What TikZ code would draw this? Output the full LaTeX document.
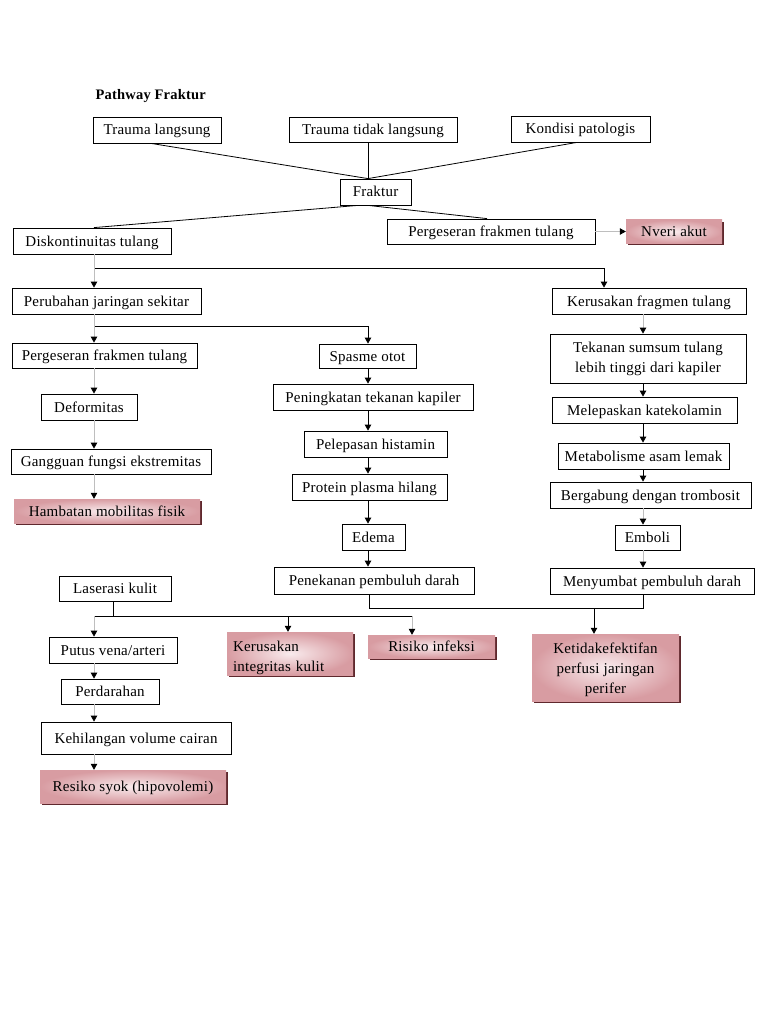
\documentclass[tikz,border=0pt]{standalone}
\usepackage{fontspec}
\setmainfont{Liberation Serif}[LetterSpace=1.5]
\usetikzlibrary{arrows.meta,shadows}
\definecolor{glc}{RGB}{190,190,190}
\definecolor{pinkin}{RGB}{249,235,237}
\definecolor{pinkout}{RGB}{216,156,162}
\definecolor{shadowc}{RGB}{95,40,45}
\newcommand{\lowlines}[3]{\raisebox{#1}[\height][\depth]{\begin{tabular}{@{}#2@{}}#3\end{tabular}}}
\begin{document}
\begin{tikzpicture}[x=1pt,y=-1pt,
  font=\fontsize{15}{20}\selectfont,
  box/.style={draw=black,line width=0.8pt,fill=white,inner sep=0pt,text depth=1.5pt,text height=11.5pt},
  mbox/.style={draw=black,line width=0.8pt,fill=white,inner sep=0pt,align=center},
  pinkbase/.style={inner sep=0pt,inner color=pinkin,outer color=pinkout,
     general shadow={fill=shadowc,shadow xshift=1.6pt,shadow yshift=-1.6pt}},
  pinkbox/.style={pinkbase,text depth=1.5pt,text height=11.5pt},
  mpink/.style={pinkbase},
  bl/.style={draw=black,line width=0.8pt},
  gl/.style={draw=glc,line width=0.8pt},
  barr/.style={bl,-{Triangle[length=6pt,width=6.5pt,black]}},
  garr/.style={gl,-{Triangle[length=6pt,width=6.5pt,black]}}]
\useasboundingbox (0,0) rectangle (768,1024);
\fill[white] (0,0) rectangle (768,1024);

\node[anchor=west,font=\fontsize{14.5}{16}\selectfont\bfseries] (title) at (92,96) {Pathway Fraktur};

\node[box,minimum width=128,minimum height=26] (tl) at (157,130) {Trauma langsung};
\node[box,minimum width=168,minimum height=25] (ttl) at (373,129.5) {Trauma tidak langsung};
\node[box,minimum width=139,minimum height=26] (kp) at (580.5,129) {Kondisi patologis};
\node[box,minimum width=71,minimum height=26] (fr) at (375.5,192) {Fraktur};
\node[box,minimum width=158,minimum height=26] (dk) at (92,241) {Diskontinuitas tulang};
\node[box,minimum width=208,minimum height=25] (pg1) at (491,231.5) {Pergeseran frakmen tulang};
\node[pinkbox,minimum width=96,minimum height=23] (nv) at (674,231.5) {Nveri akut};

\node[box,minimum width=189,minimum height=26] (pj) at (106.5,301) {Perubahan jaringan sekitar};
\node[box,minimum width=194,minimum height=26] (kf) at (649,301) {Kerusakan fragmen tulang};
\node[box,minimum width=185,minimum height=25] (pg2) at (104.5,355.5) {Pergeseran frakmen tulang};
\node[box,minimum width=97,minimum height=24] (sp) at (367.5,356) {Spasme otot};
\node[box,minimum width=96,minimum height=26] (df) at (89,407) {Deformitas};
\node[box,minimum width=200,minimum height=26] (pk) at (373,397) {Peningkatan tekanan kapiler};
\node[mbox,minimum width=196,minimum height=49] (ts) at (648,358.5) {Tekanan sumsum tulang\\lebih tinggi dari kapiler};
\node[box,minimum width=185,minimum height=26] (mk) at (644.5,410) {Melepaskan katekolamin};
\node[box,minimum width=143,minimum height=26] (ph) at (375.5,444) {Pelepasan histamin};
\node[box,minimum width=200,minimum height=25] (gf) at (111,461.5) {Gangguan fungsi ekstremitas};
\node[box,minimum width=171,minimum height=26] (ma) at (643.5,456) {Metabolisme asam lemak};
\node[box,minimum width=155,minimum height=26] (pp) at (369.5,487) {Protein plasma hilang};
\node[box,minimum width=201,minimum height=26] (bt) at (650.5,495) {Bergabung dengan trombosit};
\node[pinkbox,minimum width=186,minimum height=24] (hm) at (107,511) {Hambatan mobilitas fisik};
\node[box,minimum width=63,minimum height=26] (ed) at (373.5,537) {Edema};
\node[box,minimum width=65,minimum height=25] (em) at (647.5,537.5) {Emboli};
\node[box,minimum width=200,minimum height=27] (pn) at (374,580.5) {Penekanan pembuluh darah};
\node[box,minimum width=204,minimum height=26] (ms) at (652,581) {Menyumbat pembuluh darah};
\node[box,minimum width=112,minimum height=25] (lk) at (115,588.5) {Laserasi kulit};
\node[box,minimum width=128,minimum height=26] (pv) at (113,650) {Putus vena/arteri};
\node[mpink,minimum width=126,minimum height=43,text width=114] (ki) at (290,653.5) {\lowlines{-4pt}{l}{Kerusakan\\integritas kulit}};
\node[pinkbox,minimum width=127,minimum height=23] (ri) at (431.5,646.5) {Risiko infeksi};
\node[mpink,minimum width=147,minimum height=67] (ke) at (605.5,667.5) {\lowlines{-2pt}{c}{Ketidakefektifan\\perfusi jaringan\\perifer}};
\node[box,minimum width=98,minimum height=25] (pd) at (110,691.5) {Perdarahan};
\node[box,minimum width=190,minimum height=32] (kv) at (136,738) {Kehilangan volume cairan};
\node[pinkbox,minimum width=186,minimum height=33] (rs) at (133,786.5) {Resiko syok (hipovolemi)};

% x positions of connectors
\coordinate (xtl) at (151,0);
\coordinate (xfr) at (368,0);
\coordinate (xfl) at (358,0);
\coordinate (xkp) at (577,0);
\coordinate (xpg) at (487,0);
\coordinate (xa) at (94,0);
\coordinate (xr) at (643,0);
\coordinate (xlk) at (113,0);
% junctions
\coordinate (j1) at (94,268);
\coordinate (j2) at (604,268);
\coordinate (j3) at (94,326);
\coordinate (j4) at (368,326);
\coordinate (j5) at (369,608);
\coordinate (j6) at (643,608);
\coordinate (j7) at (594,608);
\coordinate (j8) at (113,616);
\coordinate (j9) at (94,616);
\coordinate (j10) at (412,616);
\coordinate (j11) at (288,616);

% top
\draw[bl] (tl.south -| xtl) -- (fr.north -| xfr);
\draw[bl] (ttl.south -| xfr) -- (fr.north -| xfr);
\draw[bl] (kp.south -| xkp) -- (fr.north -| xfr);
\draw[bl] (fr.south -| xfl) -- (dk.north -| xa);
\draw[bl] (fr.south -| xfr) -- (pg1.north -| xpg);
\draw[garr] (pg1.east) -- (nv.west);

% split below Diskontinuitas
\draw[gl] (dk.south -| j1) -- (j1);
\draw[bl] (j1) -- (j2);
\draw[garr] (j1) -- (pj.north -| j1);
\draw[barr] (j2) -- (kf.north -| j2);

% left branch
\draw[gl] (pj.south -| j3) -- (j3);
\draw[bl] (j3) -- (j4);
\draw[garr] (j3) -- (pg2.north -| j3);
\draw[garr] (pg2.south -| xa) -- (df.north -| xa);
\draw[garr] (df.south -| xa) -- (gf.north -| xa);
\draw[garr] (gf.south -| xa) -- (hm.north -| xa);

% middle column
\draw[barr] (j4) -- (sp.north -| j4);
\draw[barr] (sp.south -| j4) -- (pk.north -| j4);
\draw[barr] (pk.south -| j4) -- (ph.north -| j4);
\draw[barr] (ph.south -| j4) -- (pp.north -| j4);
\draw[barr] (pp.south -| j4) -- (ed.north -| j4);
\draw[barr] (ed.south -| j4) -- (pn.north -| j4);

% right column
\draw[garr] (kf.south -| xr) -- (ts.north -| xr);
\draw[barr] (ts.south -| xr) -- (mk.north -| xr);
\draw[barr] (mk.south -| xr) -- (ma.north -| xr);
\draw[barr] (ma.south -| xr) -- (bt.north -| xr);
\draw[garr] (bt.south -| xr) -- (em.north -| xr);
\draw[garr] (em.south -| xr) -- (ms.north -| xr);

% merge to perfusion
\draw[bl] (pn.south -| j5) -- (j5) -- (j6) -- (ms.south -| j6);
\draw[barr] (j7) -- (ke.north -| j7);

% laserasi
\draw[bl] (lk.south -| xlk) -- (j8);
\draw[bl] (j9) -- (j10);
\draw[garr] (j9) -- (pv.north -| j9);
\draw[barr] (j11) -- (ki.north -| j11);
\draw[garr] (j10) -- (ri.north -| j10);
\draw[garr] (pv.south -| xa) -- (pd.north -| xa);
\draw[garr] (pd.south -| xa) -- (kv.north -| xa);
\draw[garr] (kv.south -| xa) -- (rs.north -| xa);
\end{tikzpicture}
\end{document}
